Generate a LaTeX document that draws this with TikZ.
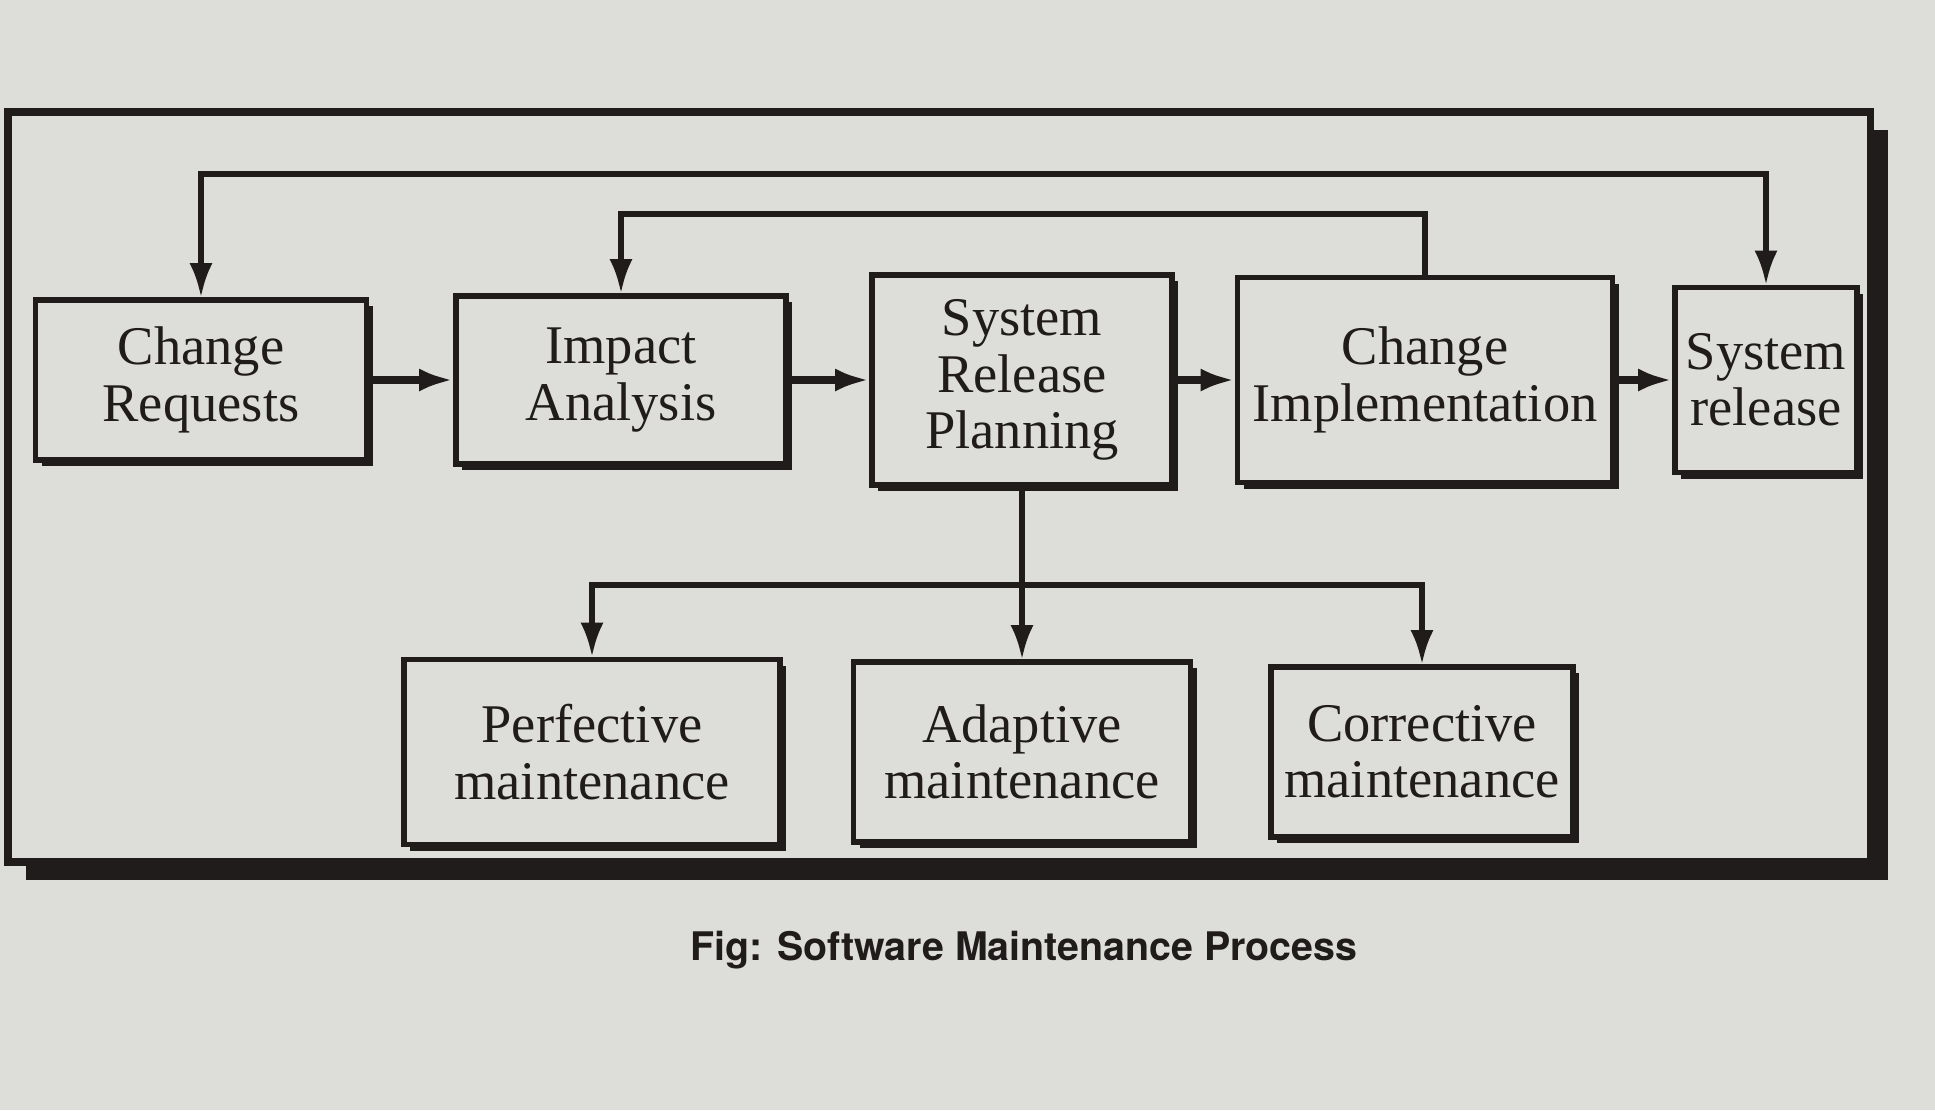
\documentclass[tikz,border=0pt]{standalone}
\usepackage{fontspec}
\setmainfont{Liberation Serif}
\setsansfont{TeX Gyre Heros}
\usetikzlibrary{arrows.meta,shadows}
\definecolor{paper}{RGB}{221,221,217}
\definecolor{ink}{RGB}{32,28,28}

\begin{document}
\begin{tikzpicture}[x=0.1mm,y=-0.1mm,>={Latex[length=3.4mm,width=2.3mm]},
    box/.style={draw=ink,line width=1.6pt,fill=paper,align=center,inner sep=0pt,
      text=ink,font=\fontsize{15.5}{16}\selectfont,
      drop shadow={shadow xshift=0.6mm,shadow yshift=-0.6mm,fill=ink,opacity=1}},
    flow/.style={draw=ink,line width=2.2pt,->},
    link/.style={draw=ink,line width=1.5pt}]
  % page and frame
  \fill[paper] (0,0) rectangle (1935,1110);
  \fill[ink] (26,130) rectangle (1888,880);
  \filldraw[fill=paper,draw=ink,line width=2pt] (8,112) rectangle (1870,862);
  % release process
  \node[box,minimum width=33.1mm,minimum height=16mm] (cr) at (201,380) {Change\\Requests};
  \node[box,minimum width=33mm,minimum height=16.8mm] (ia) at (621,380) {Impact\\Analysis};
  \node[box,minimum width=30mm,minimum height=21mm] (srp) at (1022,380) {System\\Release\\Planning};
  \node[box,minimum width=37.5mm,minimum height=20.5mm] (ci) at (1425,380) {Change\\Implementation};
  \node[box,minimum width=18.2mm,minimum height=18.5mm] (sr) at (1766,380) {System\\release};
  % kinds of maintenance
  \node[box,minimum width=37.6mm,minimum height=18.5mm] (pm) at (592,752) {Perfective\\maintenance};
  \node[box,minimum width=33.7mm,minimum height=18mm] (am) at (1022,752) {Adaptive\\maintenance};
  \node[box,minimum width=30.2mm,minimum height=17mm] (cm) at (1422,752) {Corrective\\maintenance};
  \coordinate (outer) at (0,174);
  \coordinate (inner) at (0,214);
  \coordinate (branch) at (0,585);
  % arrows
  \draw[flow] (cr) -- (ia);
  \draw[flow] (ia) -- (srp);
  \draw[flow] (srp) -- (ci);
  \draw[flow] (ci) -- (sr);
  \draw[link,<->] (cr.north) -- (cr.north |- outer) -| (sr.north);
  \draw[link,->] (ci.north) -- (ci.north |- inner) -| (ia.north);
  \draw[link,->] (srp.south) -- (am.north);
  \draw[link,->] (srp.south |- branch) -| (pm.north);
  \draw[link,->] (srp.south |- branch) -| (cm.north);
  % caption
  \node[text=ink,font=\sffamily\bfseries\fontsize{11.2}{13}\selectfont] (cap) at (1024,950)
    {Fig: Software Maintenance Process};
\end{tikzpicture}
\end{document}
